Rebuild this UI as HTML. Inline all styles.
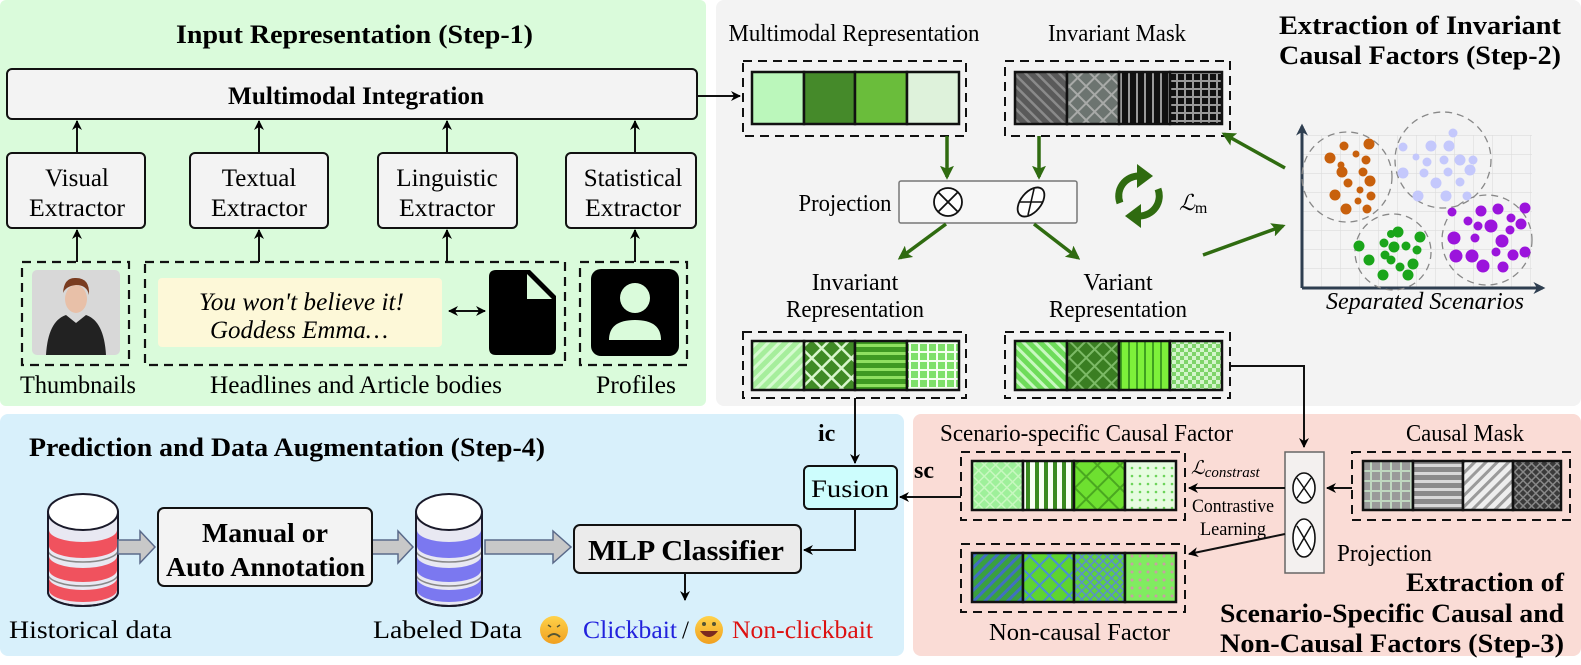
<!DOCTYPE html>
<html><head><meta charset="utf-8"><style>
html,body{margin:0;padding:0;background:#fff;}
svg{display:block;font-family:"Liberation Serif",serif;}
</style></head><body>
<svg width="1581" height="665" viewBox="0 0 1581 665" xmlns="http://www.w3.org/2000/svg">
<defs>
<marker id="ab" viewBox="0 0 10 10" refX="9" refY="5" markerWidth="5" markerHeight="5" orient="auto"><path d="M0,0 L10,5 L0,10 L3,5 z" fill="#000"/></marker>
<marker id="ag" viewBox="0 0 10 10" refX="8" refY="5" markerWidth="4" markerHeight="4" orient="auto"><path d="M0,0 L10,5 L0,10 L2,5 z" fill="#2f6b10"/></marker>
<marker id="abs" viewBox="0 0 10 10" refX="1" refY="5" markerWidth="5" markerHeight="5" orient="auto"><path d="M10,0 L0,5 L10,10 L7,5 z" fill="#000"/></marker>
<marker id="ax" viewBox="0 0 10 10" refX="8" refY="5" markerWidth="4" markerHeight="4" orient="auto"><path d="M0,0 L10,5 L0,10 L3,5 z" fill="#2e3e50"/></marker>
<pattern id="pdl" width="8" height="8" patternUnits="userSpaceOnUse" patternTransform="rotate(45)"><rect width="8" height="8" fill="#a6ee9c"/><rect width="3" height="8" fill="#d6fbd0"/></pattern>
<pattern id="plat" width="14" height="14" patternUnits="userSpaceOnUse" patternTransform="rotate(45)"><rect width="14" height="14" fill="#3f8a25"/><rect width="2.5" height="14" fill="#d8f5cc"/><rect width="14" height="2.5" fill="#d8f5cc"/></pattern>
<pattern id="phs" width="8" height="8" patternUnits="userSpaceOnUse"><rect width="8" height="8" fill="#3f9a22"/><rect width="8" height="3" fill="#8fe060"/></pattern>
<pattern id="pgr" width="9" height="9" patternUnits="userSpaceOnUse"><rect width="9" height="9" fill="#7ee06a"/><rect width="2" height="9" fill="#f4fff0"/><rect width="9" height="2" fill="#f4fff0"/></pattern>
<pattern id="pvd" width="8" height="8" patternUnits="userSpaceOnUse" patternTransform="rotate(-45)"><rect width="8" height="8" fill="#6edc5a"/><rect width="3" height="8" fill="#c8f8c0"/></pattern>
<pattern id="pvlat" width="12" height="12" patternUnits="userSpaceOnUse" patternTransform="rotate(45)"><rect width="12" height="12" fill="#3a7e22"/><rect width="2" height="12" fill="#7cba66"/><rect width="12" height="2" fill="#7cba66"/></pattern>
<pattern id="pvs" width="8" height="8" patternUnits="userSpaceOnUse"><rect width="8" height="8" fill="#7df03a"/><rect width="2" height="8" fill="#3fa020"/></pattern>
<pattern id="pchk" width="8" height="8" patternUnits="userSpaceOnUse"><rect width="8" height="8" fill="#d4f5cc"/><rect width="4" height="4" fill="#7ed46a"/><rect x="4" y="4" width="4" height="4" fill="#7ed46a"/></pattern>
<pattern id="pm1" width="8" height="8" patternUnits="userSpaceOnUse" patternTransform="rotate(-45)"><rect width="8" height="8" fill="#5a5a5a"/><rect width="2.5" height="8" fill="#8a8a8a"/></pattern>
<pattern id="pm2" width="12" height="12" patternUnits="userSpaceOnUse" patternTransform="rotate(45)"><rect width="12" height="12" fill="#6c7470"/><rect width="2" height="12" fill="#a8aaa8"/><rect width="12" height="2" fill="#a8aaa8"/></pattern>
<pattern id="pm3" width="8" height="8" patternUnits="userSpaceOnUse"><rect width="8" height="8" fill="#111"/><rect width="2" height="8" fill="#9a9a9a"/></pattern>
<pattern id="pm4" width="8" height="8" patternUnits="userSpaceOnUse"><rect width="8" height="8" fill="#111"/><rect width="2" height="8" fill="#999"/><rect width="8" height="2" fill="#999"/></pattern>
<pattern id="pc1" width="10" height="10" patternUnits="userSpaceOnUse"><rect width="10" height="10" fill="#9a9a9a"/><rect width="2" height="10" fill="#c0d8c0"/><rect width="10" height="2" fill="#c0d8c0"/></pattern>
<pattern id="pc2" width="8" height="8" patternUnits="userSpaceOnUse"><rect width="8" height="8" fill="#8a8a8a"/><rect width="8" height="3" fill="#d8d8d8"/></pattern>
<pattern id="pc3" width="8" height="8" patternUnits="userSpaceOnUse" patternTransform="rotate(45)"><rect width="8" height="8" fill="#eeeeee"/><rect width="3" height="8" fill="#9a9a9a"/></pattern>
<pattern id="pc4" width="6" height="6" patternUnits="userSpaceOnUse" patternTransform="rotate(45)"><rect width="6" height="6" fill="#3a3a3a"/><rect width="1.5" height="6" fill="#888"/><rect width="6" height="1.5" fill="#888"/></pattern>
<pattern id="ps1" width="8" height="8" patternUnits="userSpaceOnUse" patternTransform="rotate(45)"><rect width="8" height="8" fill="#9ef09a"/><rect width="1.5" height="8" fill="#c8f8c0"/><rect width="8" height="1.5" fill="#c8f8c0"/></pattern>
<pattern id="ps2" width="9" height="9" patternUnits="userSpaceOnUse"><rect width="9" height="9" fill="#f8fff4"/><rect width="4" height="9" fill="#3a8a20"/></pattern>
<pattern id="ps3" width="16" height="16" patternUnits="userSpaceOnUse" patternTransform="rotate(45)"><rect width="16" height="16" fill="#6ee030"/><rect width="2" height="16" fill="#4aa820"/><rect width="16" height="2" fill="#4aa820"/></pattern>
<pattern id="ps4" width="8" height="8" patternUnits="userSpaceOnUse"><rect width="8" height="8" fill="#e6fce0"/><circle cx="4" cy="4" r="1.3" fill="#6cd45a"/></pattern>
<pattern id="pn1" width="8" height="8" patternUnits="userSpaceOnUse" patternTransform="rotate(45)"><rect width="8" height="8" fill="#3aa040"/><rect width="3" height="8" fill="#4070c0"/></pattern>
<pattern id="pn2" width="14" height="14" patternUnits="userSpaceOnUse" patternTransform="rotate(45)"><rect width="14" height="14" fill="#5ed430"/><rect width="2" height="14" fill="#4a90d0"/><rect width="14" height="2" fill="#4a90d0"/></pattern>
<pattern id="pn3" width="6" height="6" patternUnits="userSpaceOnUse" patternTransform="rotate(45)"><rect width="6" height="6" fill="#5ed040"/><rect width="1.5" height="6" fill="#5a90c8"/><rect width="6" height="1.5" fill="#5a90c8"/></pattern>
<pattern id="pn4" width="8" height="8" patternUnits="userSpaceOnUse"><rect width="8" height="8" fill="#80ec60"/><circle cx="4" cy="4" r="1.5" fill="#c8a0a0"/></pattern>
<pattern id="grid" width="19" height="19" patternUnits="userSpaceOnUse" x="1302" y="135"><rect width="19" height="19" fill="#f4f4f4"/><path d="M0,0 H19 M0,0 V19" stroke="#dcdcdc" stroke-width="1.2"/></pattern>
<linearGradient id="face" x1="0" y1="0" x2="0" y2="1"><stop offset="0" stop-color="#ffd24a"/><stop offset="1" stop-color="#f0a020"/></linearGradient>
</defs>

<!-- panels -->
<rect x="0" y="0" width="706" height="406" rx="6" fill="#dafbdb"/>
<rect x="716" y="0" width="865" height="406" rx="8" fill="#f3f3f3"/>
<rect x="0" y="414" width="904" height="242" rx="8" fill="#d8f0fb"/>
<rect x="913" y="414" width="668" height="242" rx="8" fill="#fadcd6"/>

<!-- Step 1 -->
<text x="176" y="43" font-size="26" font-weight="bold" textLength="357" lengthAdjust="spacingAndGlyphs">Input Representation (Step-1)</text>
<rect x="7" y="69" width="690" height="50" rx="5" fill="#f3f3f3" stroke="#111" stroke-width="2"/>
<text x="228" y="104" font-size="25" font-weight="bold" textLength="256" lengthAdjust="spacingAndGlyphs">Multimodal Integration</text>
<g fill="#f3f3f3" stroke="#111" stroke-width="2">
<rect x="7" y="153" width="138" height="75" rx="5"/>
<rect x="190" y="153" width="138" height="75" rx="5"/>
<rect x="378" y="153" width="139" height="75" rx="5"/>
<rect x="566" y="153" width="130" height="75" rx="5"/>
</g>
<g font-size="25" text-anchor="middle">
<text x="77" y="186">Visual</text><text x="77" y="216" textLength="96" lengthAdjust="spacingAndGlyphs">Extractor</text>
<text x="259" y="186">Textual</text><text x="259" y="216" textLength="96" lengthAdjust="spacingAndGlyphs">Extractor</text>
<text x="447" y="186">Linguistic</text><text x="447" y="216" textLength="96" lengthAdjust="spacingAndGlyphs">Extractor</text>
<text x="633" y="186">Statistical</text><text x="633" y="216" textLength="96" lengthAdjust="spacingAndGlyphs">Extractor</text>
</g>
<g stroke="#111" stroke-width="2" marker-end="url(#ab)">
<line x1="77" y1="153" x2="77" y2="121"/><line x1="259" y1="153" x2="259" y2="121"/>
<line x1="447" y1="153" x2="447" y2="121"/><line x1="635" y1="153" x2="635" y2="121"/>
<line x1="77" y1="262" x2="77" y2="230"/><line x1="259" y1="262" x2="259" y2="230"/>
<line x1="447" y1="262" x2="447" y2="230"/><line x1="635" y1="262" x2="635" y2="230"/>
</g>
<g fill="none" stroke="#111" stroke-width="2.2" stroke-dasharray="9,6">
<rect x="22" y="262" width="107" height="103"/>
<rect x="145" y="262" width="420" height="103"/>
<rect x="580" y="262" width="107" height="103"/>
</g>
<!-- thumbnail -->
<rect x="32" y="270" width="88" height="85" rx="5" fill="#d8d8d8"/>
<ellipse cx="76" cy="299" rx="11" ry="14" fill="#e8c0a8"/>
<path d="M63,293 Q64,277 76,278 Q90,278 89,295 Q87,285 76,285 Q66,286 63,293z" fill="#7a3c20"/>
<path d="M46,355 Q48,321 66,315 L76,323 L86,315 Q104,321 106,355z" fill="#222"/>
<!-- text box -->
<rect x="158" y="278" width="284" height="69" rx="4" fill="#fdf8d8"/>
<g font-size="25" font-style="italic"><text x="199" y="310" textLength="205" lengthAdjust="spacingAndGlyphs">You won't believe it!</text><text x="210" y="338" textLength="178" lengthAdjust="spacingAndGlyphs">Goddess Emma…</text></g>
<line x1="449" y1="311" x2="485" y2="311" stroke="#111" stroke-width="2" marker-end="url(#ab)" marker-start="url(#abs)"/>
<path d="M489,277 Q489,270 496,270 L530,270 L556,296 L556,348 Q556,355 549,355 L496,355 Q489,355 489,348z" fill="#000"/>
<path d="M527,274 L527,299 L552,299z" fill="#dafbdb"/>
<rect x="591" y="269" width="88" height="87" rx="10" fill="#000"/>
<circle cx="635" cy="298" r="15" fill="#dafbdb"/>
<path d="M609,340 Q609,320 635,320 Q661,320 661,340z" fill="#dafbdb"/>
<g font-size="25"><text x="20" y="393" textLength="116" lengthAdjust="spacingAndGlyphs">Thumbnails</text><text x="210" y="393" textLength="292" lengthAdjust="spacingAndGlyphs">Headlines and Article bodies</text><text x="596" y="393" textLength="80" lengthAdjust="spacingAndGlyphs">Profiles</text></g>
<line x1="697" y1="96" x2="740" y2="96" stroke="#111" stroke-width="2" marker-end="url(#ab)"/>

<!-- Step 2 -->
<g font-size="24" text-anchor="middle">
<text x="854" y="41" textLength="251" lengthAdjust="spacingAndGlyphs">Multimodal Representation</text>
<text x="1117" y="41" textLength="138" lengthAdjust="spacingAndGlyphs">Invariant Mask</text>
<text x="855" y="290">Invariant</text><text x="855" y="317" textLength="138" lengthAdjust="spacingAndGlyphs">Representation</text>
<text x="1118" y="290">Variant</text><text x="1118" y="317" textLength="138" lengthAdjust="spacingAndGlyphs">Representation</text>
<text x="845" y="211" textLength="93" lengthAdjust="spacingAndGlyphs">Projection</text></g>
<g fill="none" stroke="#111" stroke-width="2" stroke-dasharray="9,6">
<rect x="743" y="61" width="223" height="75"/><rect x="1005" y="61" width="225" height="75"/>
<rect x="743" y="332" width="223" height="66"/><rect x="1005" y="332" width="225" height="66"/>
</g>
<g stroke="#111" stroke-width="2.5">
<rect x="752" y="72" width="52" height="52" fill="#bbf7bb"/><rect x="804" y="72" width="51" height="52" fill="#458a2a"/><rect x="855" y="72" width="52" height="52" fill="#6abd3b"/><rect x="907" y="72" width="52" height="52" fill="#def2db"/>
<rect x="1015" y="72" width="52" height="52" fill="url(#pm1)"/><rect x="1067" y="72" width="52" height="52" fill="url(#pm2)"/><rect x="1119" y="72" width="51" height="52" fill="url(#pm3)"/><rect x="1170" y="72" width="52" height="52" fill="url(#pm4)"/>
<rect x="752" y="341" width="52" height="49" fill="url(#pdl)"/><rect x="804" y="341" width="51" height="49" fill="url(#plat)"/><rect x="855" y="341" width="52" height="49" fill="url(#phs)"/><rect x="907" y="341" width="52" height="49" fill="url(#pgr)"/>
<rect x="1015" y="341" width="52" height="49" fill="url(#pvd)"/><rect x="1067" y="341" width="52" height="49" fill="url(#pvlat)"/><rect x="1119" y="341" width="51" height="49" fill="url(#pvs)"/><rect x="1170" y="341" width="52" height="49" fill="url(#pchk)"/>
</g>
<rect x="899" y="181" width="178" height="42" rx="2" fill="#f6f6f6" stroke="#777" stroke-width="1.5"/>
<circle cx="948" cy="202" r="14" fill="#fff" stroke="#111" stroke-width="1.8"/>
<path d="M938,192 L958,212 M958,192 L938,212" stroke="#111" stroke-width="1.8"/>
<ellipse cx="1031" cy="202" rx="10" ry="17" transform="rotate(40 1031 202)" fill="#fff" stroke="#111" stroke-width="1.8"/>
<path d="M1019,202 L1043,202 M1034,189 L1028,215" stroke="#111" stroke-width="1.6"/>
<g stroke="#2f6b10" stroke-width="3.5" fill="none" marker-end="url(#ag)">
<line x1="947" y1="136" x2="947" y2="177"/><line x1="1039" y1="136" x2="1039" y2="177"/>
<line x1="946" y1="224" x2="900" y2="258"/><line x1="1034" y1="224" x2="1078" y2="258"/>
<line x1="1285" y1="168" x2="1224" y2="134"/><line x1="1203" y1="255" x2="1283" y2="226"/>
</g>
<!-- recycle -->
<g stroke="#2f6b10" stroke-width="7" fill="none">
<path d="M1120,203 A20,20 0 0 1 1139,176"/><path d="M1158,189 A20,20 0 0 1 1139,216"/>
</g>
<path d="M1137,164 L1137,188 L1153,176z" fill="#2f6b10"/><path d="M1141,204 L1141,228 L1125,216z" fill="#2f6b10"/>
<text x="1179" y="210" font-size="22" font-style="italic">ℒ<tspan font-size="16" font-style="normal" dy="3">m</tspan></text>
<text x="1279" y="34" font-size="26" font-weight="bold" textLength="282" lengthAdjust="spacingAndGlyphs">Extraction of Invariant</text>
<text x="1279" y="64" font-size="26" font-weight="bold" textLength="282" lengthAdjust="spacingAndGlyphs">Causal Factors (Step-2)</text>
<!-- scatter -->
<rect x="1302" y="135" width="230" height="152" fill="url(#grid)"/>
<g stroke="#2e3e50" stroke-width="3" fill="none">
<line x1="1302" y1="288" x2="1302" y2="126" marker-end="url(#ax)"/><line x1="1302" y1="288" x2="1543" y2="288" marker-end="url(#ax)"/>
</g>
<g fill="none" stroke="#888" stroke-width="1.3" stroke-dasharray="7,5">
<circle cx="1347" cy="177" r="45"/><circle cx="1443" cy="160" r="48"/><circle cx="1393" cy="252" r="38"/><circle cx="1487" cy="240" r="45"/>
</g>
<g fill="#c8600c">
<circle cx="1330" cy="158" r="5.5"/><circle cx="1344" cy="146" r="4.5"/><circle cx="1369" cy="144" r="5.5"/><circle cx="1356" cy="154" r="3.5"/><circle cx="1366" cy="160" r="4.5"/><circle cx="1341" cy="165" r="3.5"/><circle cx="1342" cy="172" r="5.5"/><circle cx="1363" cy="172" r="4.5"/><circle cx="1348" cy="183" r="4.5"/><circle cx="1370" cy="181" r="5.5"/><circle cx="1335" cy="195" r="5.5"/><circle cx="1360" cy="190" r="3.5"/><circle cx="1371" cy="196" r="4.5"/><circle cx="1346" cy="209" r="5.5"/><circle cx="1358" cy="201" r="3.5"/><circle cx="1367" cy="209" r="4.5"/>
</g>
<g fill="#c4c8fc">
<circle cx="1453" cy="133" r="4.5"/><circle cx="1403" cy="147" r="4.5"/><circle cx="1431" cy="146" r="5.5"/><circle cx="1449" cy="146" r="5.5"/><circle cx="1416" cy="157" r="3.5"/><circle cx="1427" cy="162" r="4.5"/><circle cx="1444" cy="160" r="4.5"/><circle cx="1460" cy="160" r="5.5"/><circle cx="1473" cy="160" r="4.5"/><circle cx="1403" cy="173" r="5.5"/><circle cx="1424" cy="173" r="4.5"/><circle cx="1448" cy="172" r="4.5"/><circle cx="1470" cy="170" r="5.5"/><circle cx="1436" cy="183" r="5.5"/><circle cx="1460" cy="182" r="4.5"/><circle cx="1418" cy="196" r="5.5"/><circle cx="1446" cy="196" r="5.5"/><circle cx="1467" cy="196" r="4.5"/>
</g>
<g fill="#1aa51a">
<circle cx="1391" cy="234" r="4"/><circle cx="1398" cy="232" r="5.5"/><circle cx="1420" cy="237" r="5.5"/><circle cx="1359" cy="246" r="5.5"/><circle cx="1384" cy="243" r="4.5"/><circle cx="1394" cy="247" r="5.5"/><circle cx="1406" cy="246" r="4.5"/><circle cx="1417" cy="250" r="4.5"/><circle cx="1369" cy="260" r="5.5"/><circle cx="1385" cy="255" r="4.5"/><circle cx="1391" cy="260" r="4.5"/><circle cx="1413" cy="264" r="5.5"/><circle cx="1400" cy="267" r="4.5"/><circle cx="1383" cy="275" r="5.5"/><circle cx="1408" cy="275" r="5.5"/>
</g>
<g fill="#9b14dc">
<circle cx="1452" cy="212" r="4.5"/><circle cx="1481" cy="211" r="5.5"/><circle cx="1498" cy="209" r="5.5"/><circle cx="1525" cy="208" r="5.5"/><circle cx="1468" cy="221" r="4.5"/><circle cx="1478" cy="226" r="4.5"/><circle cx="1491" cy="226" r="6.5"/><circle cx="1511" cy="218" r="4.5"/><circle cx="1521" cy="224" r="5.5"/><circle cx="1454" cy="238" r="6.5"/><circle cx="1475" cy="238" r="4.5"/><circle cx="1502" cy="241" r="6.5"/><circle cx="1510" cy="230" r="4.5"/><circle cx="1456" cy="256" r="6.5"/><circle cx="1472" cy="256" r="6.5"/><circle cx="1496" cy="252" r="4.5"/><circle cx="1513" cy="255" r="5.5"/><circle cx="1525" cy="252" r="5.5"/><circle cx="1483" cy="266" r="6.5"/><circle cx="1503" cy="267" r="5.5"/>
</g>
<text x="1425" y="309" font-size="24" font-style="italic" text-anchor="middle" textLength="198" lengthAdjust="spacingAndGlyphs">Separated Scenarios</text>

<!-- connectors between panels -->
<path d="M1230,366 H1304 V447" fill="none" stroke="#111" stroke-width="2" marker-end="url(#ab)"/>
<path d="M855,398 V463" fill="none" stroke="#111" stroke-width="2" marker-end="url(#ab)"/>
<text x="818" y="441" font-size="24" font-weight="bold">ic</text>

<!-- Step 3 -->
<g font-size="24">
<text x="940" y="441" textLength="293" lengthAdjust="spacingAndGlyphs">Scenario-specific Causal Factor</text>
<text x="1406" y="441" textLength="118" lengthAdjust="spacingAndGlyphs">Causal Mask</text>
<text x="989" y="640" textLength="181" lengthAdjust="spacingAndGlyphs">Non-causal Factor</text>
<text x="1337" y="561" textLength="95" lengthAdjust="spacingAndGlyphs">Projection</text>
<text x="1192" y="512" font-size="19" textLength="82" lengthAdjust="spacingAndGlyphs">Contrastive</text>
<text x="1200" y="535" font-size="19" textLength="66" lengthAdjust="spacingAndGlyphs">Learning</text></g>
<text x="1191" y="474" font-size="19" font-style="italic">ℒ<tspan font-size="15" dy="3">constrast</tspan></text>
<g fill="none" stroke="#111" stroke-width="2" stroke-dasharray="9,6">
<rect x="961" y="452" width="224" height="68"/><rect x="1352" y="452" width="218" height="68"/><rect x="961" y="544" width="224" height="68"/>
</g>
<g stroke="#111" stroke-width="2.5">
<rect x="972" y="461" width="51" height="49" fill="url(#ps1)"/><rect x="1023" y="461" width="51" height="49" fill="url(#ps2)"/><rect x="1074" y="461" width="51" height="49" fill="url(#ps3)"/><rect x="1125" y="461" width="51" height="49" fill="url(#ps4)"/>
<rect x="972" y="553" width="51" height="49" fill="url(#pn1)"/><rect x="1023" y="553" width="51" height="49" fill="url(#pn2)"/><rect x="1074" y="553" width="51" height="49" fill="url(#pn3)"/><rect x="1125" y="553" width="51" height="49" fill="url(#pn4)"/>
<rect x="1363" y="461" width="50" height="49" fill="url(#pc1)"/><rect x="1413" y="461" width="50" height="49" fill="url(#pc2)"/><rect x="1463" y="461" width="50" height="49" fill="url(#pc3)"/><rect x="1513" y="461" width="48" height="49" fill="url(#pc4)"/>
</g>
<rect x="1285" y="452" width="39" height="121" fill="#f3f0ef" stroke="#666" stroke-width="1.5"/>
<ellipse cx="1304" cy="488" rx="11" ry="15" fill="#fff" stroke="#111" stroke-width="1.6"/>
<path d="M1297,478 L1311,498 M1311,478 L1297,498" stroke="#111" stroke-width="1.5"/>
<ellipse cx="1304" cy="538" rx="11" ry="19" fill="#fff" stroke="#111" stroke-width="1.6"/>
<path d="M1297,526 L1311,550 M1311,526 L1297,550" stroke="#111" stroke-width="1.5"/>
<g stroke="#111" stroke-width="2" marker-end="url(#ab)">
<line x1="1352" y1="488" x2="1327" y2="488"/><line x1="1285" y1="488" x2="1189" y2="488"/><line x1="1285" y1="534" x2="1189" y2="554"/><line x1="961" y1="497" x2="900" y2="497"/>
</g>
<text x="914" y="478" font-size="24" font-weight="bold">sc</text>
<g font-size="26" font-weight="bold">
<text x="1406" y="591" textLength="158" lengthAdjust="spacingAndGlyphs">Extraction of</text>
<text x="1220" y="622" textLength="344" lengthAdjust="spacingAndGlyphs">Scenario-Specific Causal and</text>
<text x="1220" y="652" textLength="344" lengthAdjust="spacingAndGlyphs">Non-Causal Factors (Step-3)</text>
</g>

<!-- Step 4 -->
<text x="29" y="456" font-size="26" font-weight="bold" textLength="516" lengthAdjust="spacingAndGlyphs">Prediction and Data Augmentation (Step-4)</text>
<rect x="804" y="466" width="93" height="43" rx="5" fill="#cdfdfd" stroke="#111" stroke-width="2"/>
<text x="850" y="497" font-size="25" text-anchor="middle" textLength="78" lengthAdjust="spacingAndGlyphs">Fusion</text>
<path d="M855,509 V550 H804" fill="none" stroke="#111" stroke-width="2" marker-end="url(#ab)"/>
<!-- cylinders -->
<g stroke="#1a1a2a" stroke-width="2">
<g>
<path d="M48,512 V592 A35,14 0 0 0 118,592 V512z" fill="#e8e8f2"/>
<path d="M49,530 A34,12 0 0 0 117,530 V546 A34,12 0 0 1 49,546z" fill="#f0525e" stroke="none"/>
<path d="M49,556 A34,12 0 0 0 117,556 V570 A34,12 0 0 1 49,570z" fill="#f0525e" stroke="none"/>
<path d="M49,578 A34,12 0 0 0 117,578 V590 A34,12 0 0 1 49,590z" fill="#f0525e" stroke="none"/>
<path d="M48,550 A35,12 0 0 0 118,550 M48,574 A35,12 0 0 0 118,574" fill="none" stroke="#888" stroke-width="1.5"/>
<path d="M48,512 V592 A35,14 0 0 0 118,592 V512" fill="none"/>
<ellipse cx="83" cy="512" rx="35" ry="18" fill="#fff"/>
</g>
<g>
<path d="M416,512 V592 A33,14 0 0 0 482,592 V512z" fill="#e8e8f2"/>
<path d="M417,530 A32,12 0 0 0 481,530 V546 A32,12 0 0 1 417,546z" fill="#7b78f0" stroke="none"/>
<path d="M417,556 A32,12 0 0 0 481,556 V570 A32,12 0 0 1 417,570z" fill="#7b78f0" stroke="none"/>
<path d="M417,578 A32,12 0 0 0 481,578 V590 A32,12 0 0 1 417,590z" fill="#7b78f0" stroke="none"/>
<path d="M416,550 A33,12 0 0 0 482,550 M416,574 A33,12 0 0 0 482,574" fill="none" stroke="#888" stroke-width="1.5"/>
<path d="M416,512 V592 A33,14 0 0 0 482,592 V512" fill="none"/>
<ellipse cx="449" cy="512" rx="33" ry="18" fill="#fff"/>
</g>
</g>
<g fill="#c8c8c8" stroke="#5a6a8a" stroke-width="1.5">
<path d="M118,540 H140 V531 L155,547 L140,563 V554 H118z"/>
<path d="M372,540 H398 V531 L413,547 L398,563 V554 H372z"/>
<path d="M485,540 H553 V531 L571,547 L553,563 V554 H485z"/>
</g>
<rect x="158" y="508" width="214" height="78" rx="6" fill="#f3f3f3" stroke="#111" stroke-width="2"/>
<g font-size="27" font-weight="bold"><text x="202" y="542" textLength="126" lengthAdjust="spacingAndGlyphs">Manual or</text><text x="166" y="576" textLength="199" lengthAdjust="spacingAndGlyphs">Auto Annotation</text></g>
<rect x="574" y="525" width="227" height="48" rx="6" fill="#ebebeb" stroke="#111" stroke-width="2"/>
<text x="588" y="560" font-size="29" font-weight="bold" textLength="196" lengthAdjust="spacingAndGlyphs">MLP Classifier</text>
<line x1="685" y1="573" x2="685" y2="600" stroke="#111" stroke-width="2" marker-end="url(#ab)"/>
<g font-size="25"><text x="9" y="638" textLength="163" lengthAdjust="spacingAndGlyphs">Historical data</text><text x="373" y="638" textLength="149" lengthAdjust="spacingAndGlyphs">Labeled Data</text></g>
<circle cx="554" cy="630" r="14" fill="url(#face)"/>
<path d="M548,625 l3,2 M560,625 l-3,2" stroke="#553" stroke-width="1.5"/>
<path d="M548,637 Q554,631 560,637" stroke="#553" stroke-width="2" fill="none"/>
<text x="583" y="638" font-size="25" fill="#2222dd" textLength="94" lengthAdjust="spacingAndGlyphs">Clickbait</text>
<text x="682" y="638" font-size="25">/</text>
<circle cx="709" cy="630" r="14" fill="url(#face)"/>
<circle cx="704" cy="624" r="2" fill="#553"/><circle cx="714" cy="624" r="2" fill="#553"/>
<path d="M700,631 Q709,643 718,631z" fill="#7a2a20"/>
<text x="732" y="638" font-size="25" fill="#dd1111" textLength="141" lengthAdjust="spacingAndGlyphs">Non-clickbait</text>
</svg>
</body></html>
